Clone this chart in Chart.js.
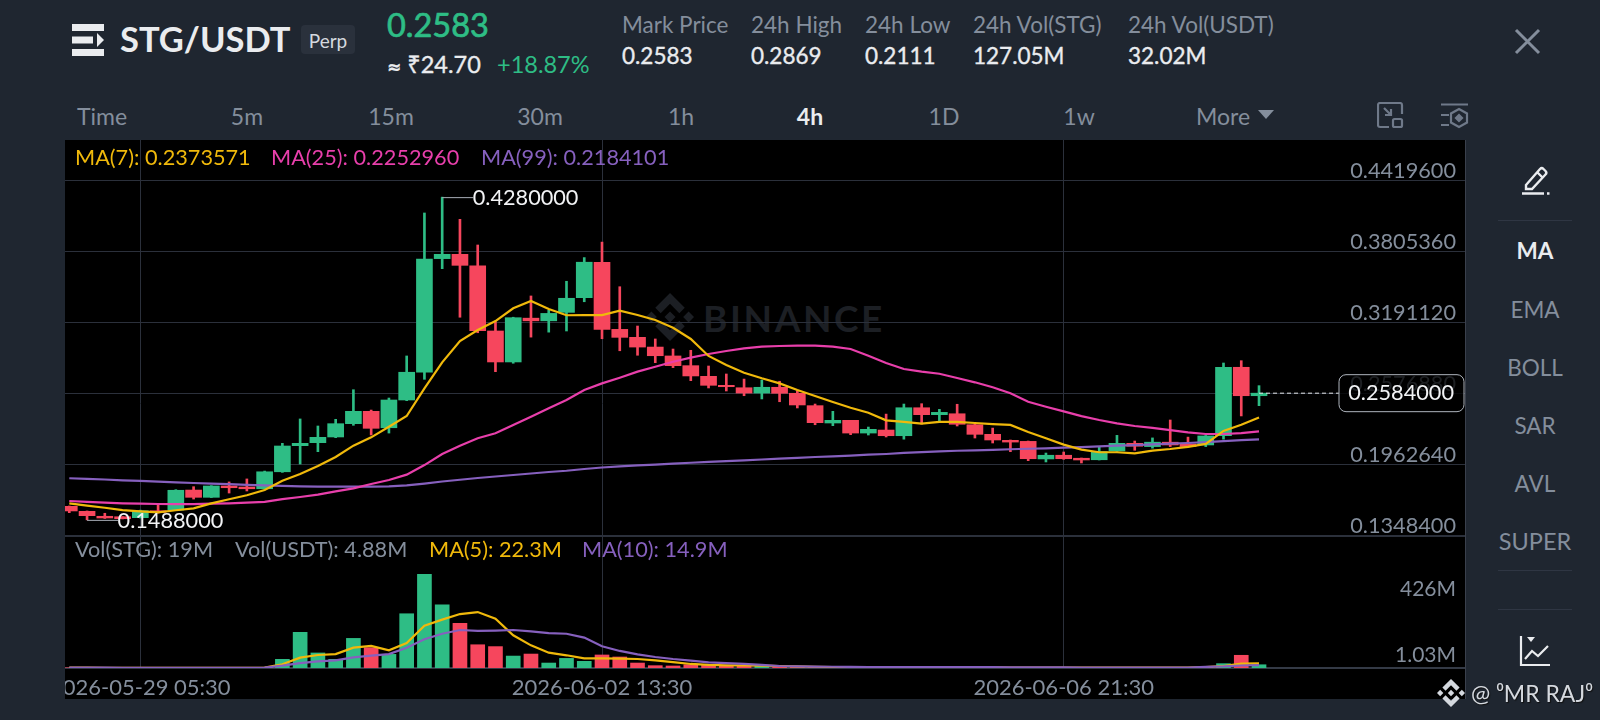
<!DOCTYPE html>
<html>
<head>
<meta charset="utf-8">
<title>STG/USDT</title>
<script src="https://cdn.jsdelivr.net/npm/chart.js@4/dist/chart.umd.min.js"></script>
<style>
html, body { margin: 0; padding: 0; width: 1600px; height: 720px; overflow: hidden; background: #1f2630; font-family: Lato, "Open Sans", sans-serif; }
.t { position: absolute; white-space: nowrap; line-height: 1; transform: translateY(-50%); }
.c { transform: translate(-50%, -50%); }
.gray { color: #848e9c; }
.light { color: #eaecef; }
.up { color: #2ebd85; }
.med { -webkit-text-stroke: .35px currentColor; }
#panel { position: absolute; left: 65px; top: 140px; width: 1400px; height: 559px; background: #000; border-right: 1px solid #3a404c; }
#chart { position: absolute; left: 0; top: 0; }
#mark { position: absolute; left: 581px; top: 153px; width: 48px; height: 48px; fill: #1c1f24; }
#markText { position: absolute; left: 638px; top: 177px; transform: translateY(-50%); font-size: 37px; font-weight: 700; letter-spacing: 2.6px; color: #1c1f24; line-height: 1; }
.rule { position: absolute; left: 1498px; width: 74px; height: 1px; background: #2f3643; }
svg.ic { position: absolute; fill: none; }
</style>
</head>
<body>
<svg width="0" height="0" style="position:absolute">
  <symbol id="bn" viewBox="0 0 126.61 126.61">
    <path d="M38.73 53.2l24.59-24.58 24.6 24.6 14.3-14.31L63.32 0 24.43 38.9zM0 63.31l14.3-14.31 14.31 14.31-14.31 14.3zM38.73 73.41l24.59 24.59 24.6-24.6 14.31 14.29-38.9 38.91-38.91-38.88zM98 63.31L112.3 49l14.31 14.3-14.31 14.32z"/>
    <path d="M77.83 63.3L63.32 48.78 52.59 59.51l-1.24 1.23-2.54 2.54 14.51 14.5 14.51-14.47z"/>
  </symbol>
</svg>

<!-- top bar -->
<svg class="ic" style="left:72px;top:24px" width="33" height="33" fill="#eaecef">
  <g fill="#eaecef"><rect x="0" y="0" width="32" height="7"/><rect x="0" y="12.5" width="21" height="7"/><polygon points="25,9 32,16 25,23"/><rect x="0" y="25" width="32" height="7"/></g>
</svg>
<div class="t light" style="left:120px;top:39px;font-size:34.5px;font-weight:700">STG/USDT</div>
<div style="position:absolute;left:301px;top:25px;width:54px;height:29px;background:#2a313c;border-radius:4px"></div>
<div class="t c" style="left:328px;top:40px;font-size:19px;color:#d5d9df">Perp</div>
<div class="t up med" style="left:387px;top:24.5px;font-size:32.5px;-webkit-text-stroke-width:.7px">0.2583</div>
<div class="t light med" style="left:387px;top:65px;font-size:23.5px"><span style="font-family:'DejaVu Sans';font-size:17px;font-weight:700">≈</span> <span style="font-family:'Noto Sans',Roboto">₹</span>24.70</div>
<div class="t up" style="left:497px;top:65px;font-size:23.5px">+18.87%</div>

<div class="t gray" style="left:622px;top:25px;font-size:22.5px">Mark Price</div>
<div class="t gray" style="left:751px;top:25px;font-size:22.5px">24h High</div>
<div class="t gray" style="left:865px;top:25px;font-size:22.5px">24h Low</div>
<div class="t gray" style="left:973px;top:25px;font-size:22.5px">24h Vol(STG)</div>
<div class="t gray" style="left:1128px;top:25px;font-size:22.5px">24h Vol(USDT)</div>
<div class="t light med" style="left:622px;top:56px;font-size:22.5px">0.2583</div>
<div class="t light med" style="left:751px;top:56px;font-size:22.5px">0.2869</div>
<div class="t light med" style="left:865px;top:56px;font-size:22.5px">0.2111</div>
<div class="t light med" style="left:973px;top:56px;font-size:22.5px">127.05M</div>
<div class="t light med" style="left:1128px;top:56px;font-size:22.5px">32.02M</div>
<svg class="ic" style="left:1514px;top:28px" width="27" height="27" stroke="#848e9c" stroke-width="3"><path d="M2 2L25 25M25 2L2 25"/></svg>

<!-- interval row -->
<div class="t c gray" style="left:102px;top:116px;font-size:23px">Time</div>
<div class="t c gray" style="left:247px;top:116px;font-size:23px">5m</div>
<div class="t c gray" style="left:391px;top:116px;font-size:23px">15m</div>
<div class="t c gray" style="left:540px;top:116px;font-size:23px">30m</div>
<div class="t c gray" style="left:681px;top:116px;font-size:23px">1h</div>
<div class="t c light" style="left:810px;top:116px;font-size:23px;font-weight:700">4h</div>
<div class="t c gray" style="left:944px;top:116px;font-size:23px">1D</div>
<div class="t c gray" style="left:1079px;top:116px;font-size:23px">1w</div>
<div class="t c gray" style="left:1223px;top:116px;font-size:23px">More</div>
<svg class="ic" style="left:1258px;top:110px" width="16" height="10"><polygon points="0,0 16,0 8,9" fill="#848e9c"/></svg>
<svg class="ic" style="left:1377px;top:102px" width="27" height="27" stroke="#6f7989" stroke-width="2.2">
  <path d="M12 25H3a2 2 0 0 1-2-2V3a2 2 0 0 1 2-2h20a2 2 0 0 1 2 2v9"/><path d="M7 6L14 13M14 7v6H8"/><rect x="16" y="17" width="9" height="8" rx="1.5"/>
</svg>
<svg class="ic" style="left:1440px;top:103px" width="29" height="26" stroke="#6f7989" stroke-width="2.2">
  <path d="M1 1.5H28M1 12H9M1 22H9"/><polygon points="19,6 27,10.5 27,19.5 19,24 11,19.5 11,10.5"/><polygon points="19,12 22,15 19,18 16,15" fill="#6f7989"/>
</svg>

<!-- chart panel -->
<div id="panel">
  <svg id="mark"><use href="#bn"/></svg>
  <div id="markText">BINANCE</div>
  <canvas id="chart" width="1400" height="559"></canvas>
</div>
<div class="t" style="left:75px;top:158px;font-size:21.7px;color:#f0b90b">MA(7): 0.2373571</div>
<div class="t" style="left:271px;top:158px;font-size:21.7px;color:#e83fab">MA(25): 0.2252960</div>
<div class="t" style="left:481px;top:158px;font-size:21.7px;color:#8660be">MA(99): 0.2184101</div>
<div class="t gray" style="left:75px;top:550px;font-size:21.7px">Vol(STG): 19M</div>
<div class="t gray" style="left:235px;top:550px;font-size:21.7px">Vol(USDT): 4.88M</div>
<div class="t" style="left:429px;top:550px;font-size:21.7px;color:#f0b90b">MA(5): 22.3M</div>
<div class="t" style="left:582px;top:550px;font-size:21.7px;color:#8660be">MA(10): 14.9M</div>

<!-- side menu -->
<svg class="ic" style="left:1521px;top:165px" width="29" height="30" stroke="#eaecef" stroke-width="2.4">
  <path d="M5 20L19 4a2.5 2.5 0 0 1 3.5 0l2 2a2.5 2.5 0 0 1 0 3.500L11 24H5zM16 7l6 6"/><path d="M1 28.500H23M26 28.500H28.500"/>
</svg>
<div class="rule" style="top:220px"></div>
<div class="t c light" style="left:1535px;top:251px;font-size:22.500px;font-weight:700">MA</div>
<div class="t c gray" style="left:1535px;top:310px;font-size:22.500px">EMA</div>
<div class="t c gray" style="left:1535px;top:368px;font-size:22.500px">BOLL</div>
<div class="t c gray" style="left:1535px;top:426px;font-size:22.500px">SAR</div>
<div class="t c gray" style="left:1535px;top:484px;font-size:22.500px">AVL</div>
<div class="t c gray" style="left:1535px;top:542px;font-size:23.5px">SUPER</div>
<div class="rule" style="top:570px"></div>
<div class="rule" style="top:609px"></div>
<svg class="ic" style="left:1519px;top:635px" width="32" height="32" stroke="#eaecef" stroke-width="2.2">
  <path d="M2 1V30H31"/><path d="M6 24L13 16L19 21L29 11"/><polygon points="8,2 16,2 12,7" fill="#eaecef" stroke="none"/>
</svg>
<svg style="position:absolute;left:1437px;top:679px;fill:#d5d9df" width="28" height="28"><use href="#bn"/></svg>
<div class="t" style="left:1471px;top:693px;font-size:23px;color:#d5d9df;text-shadow:1px 1px 1px #111">@ ⁰MR RAJ⁰</div>

<script>
const opens  = [.1605,.1562,.1519,.1515,.1507,.1567,.1573,.1746,.1683,.1781,.1772,.1757,.1904,.2130,.2156,.2205,.2320,.2427,.2285,.2525,.2765,.3748,.3785,.3686,.3122,.2854,.3233,.3210,.3283,.3410,.3717,.3136,.3067,.2983,.2906,.2822,.2730,.2652,.2631,.2585,.2635,.2583,.2476,.2326,.2349,.2239,.2265,.2216,.2458,.2398,.2406,.2311,.2228,.2176,.2167,.2015,.2047,.2021,.2008,.2084,.2150,.2122,.2160,.2143,.2136,.2216,.2808,.2562];
const highs  = [.1608,.1565,.1545,.1515,.1572,.1631,.1749,.1775,.1784,.1816,.1842,.1910,.2150,.2361,.2300,.2358,.2614,.2438,.2542,.2906,.4143,.4280,.4088,.3866,.3202,.3241,.3425,.3302,.3552,.3757,.3891,.3505,.3165,.3053,.2966,.2955,.2819,.2750,.2706,.2698,.2687,.2605,.2490,.2427,.2349,.2291,.2403,.2490,.2493,.2444,.2488,.2317,.2282,.2179,.2170,.2066,.2075,.2023,.2116,.2219,.2170,.2197,.2352,.2204,.2218,.2845,.2865,.2649];
const lows   = [.1550,.1488,.1500,.1496,.1504,.1547,.1571,.1668,.1681,.1720,.1738,.1755,.1899,.1971,.2078,.2199,.2306,.2222,.2239,.2519,.2704,.3661,.3241,.3107,.2770,.2843,.3069,.3112,.3122,.3375,.3055,.2951,.2912,.2848,.2805,.2692,.2629,.2603,.2562,.2534,.2510,.2456,.2311,.2303,.2225,.2222,.2205,.2186,.2317,.2337,.2300,.2196,.2153,.2078,.2000,.1989,.2012,.1980,.2006,.2080,.2090,.2108,.2122,.2117,.2122,.2186,.2387,.2476];
const closes = [.1565,.1524,.1504,.1498,.1567,.1553,.1744,.1683,.1781,.1766,.1757,.1904,.2127,.2150,.2202,.2320,.2427,.2280,.2525,.2765,.3745,.3785,.3690,.3124,.2854,.3237,.3210,.3274,.3405,.3717,.3136,.3067,.2983,.2908,.2822,.2733,.2652,.2640,.2585,.2635,.2583,.2482,.2329,.2349,.2239,.2271,.2216,.2458,.2398,.2418,.2315,.2228,.2179,.2161,.2017,.2047,.2017,.2006,.2078,.2150,.2125,.2160,.2136,.2122,.2214,.2808,.2562,.2584];

const ma7  = [.1631,.1611,.1593,.1573,.1562,.1553,.1571,.1588,.1631,.1666,.1701,.1746,.1827,.1885,.1954,.2032,.2130,.2202,.2294,.2386,.2626,.2851,.3035,.3131,.3208,.3318,.3381,.3312,.3258,.3260,.3260,.3298,.3260,.3217,.3150,.3053,.2906,.2828,.2761,.2713,.2669,.2611,.2560,.2508,.2458,.2415,.2349,.2335,.2320,.2335,.2335,.2326,.2317,.2309,.2248,.2194,.2139,.2096,.2073,.2073,.2064,.2087,.2101,.2119,.2145,.2257,.2311,.2374];
const ma25 = [.1651,.1643,.1637,.1631,.1628,.1625,.1625,.1625,.1628,.1631,.1637,.1643,.1668,.1686,.1706,.1735,.1761,.1798,.1833,.1879,.1962,.2058,.2130,.2194,.2237,.2309,.2380,.2453,.2525,.2611,.2669,.2718,.2770,.2813,.2856,.2891,.2923,.2949,.2972,.2986,.2992,.2995,.2995,.2986,.2966,.2908,.2845,.2793,.2770,.2752,.2715,.2678,.2635,.2583,.2510,.2467,.2427,.2386,.2352,.2323,.2300,.2283,.2265,.2245,.2231,.2231,.2239,.2253];
const ma99 = [.1848,.1842,.1837,.1830,.1825,.1818,.1813,.1807,.1802,.1797,.1791,.1786,.1782,.1778,.1776,.1775,.1775,.1775,.1777,.1787,.1802,.1820,.1835,.1850,.1863,.1876,.1889,.1902,.1913,.1928,.1941,.1951,.1959,.1966,.1974,.1982,.1989,.1996,.2003,.2010,.2017,.2024,.2032,.2038,.2044,.2052,.2058,.2067,.2074,.2081,.2086,.2090,.2094,.2099,.2103,.2107,.2113,.2118,.2124,.2130,.2135,.2141,.2147,.2153,.2161,.2170,.2177,.2184];

// volume, in millions
const vols = [1.2,.9,.8,.7,1,.8,2,1.5,1.8,1.1,1.4,4,56,230,97,56,191,131,88,350,604,408,288,150,138,77,90,32,62,43,84,71,32,15,13,21,17,13,13,13,10,4,4,3,3,2,3,6,6,4,4,3,2,2,3,2,2,1.5,2,3,2,2,3,3,4,28,82,21];
const volMa5 = [2,1.8,1.6,1.2,1,.9,1.1,1.2,1.4,1.5,1.6,2.5,24,67,84,90,131,142,114,161,273,312,348,361,318,211,146,99,82,62,62,60,58,49,38,26,20,17,16,15,13,10,8,6,5,4,4,4,4,4,5,5,4,3,3,3,3,3,3,3,3,3,3,3,6,13,28,30];
const volMa10 = [2.2,2,1.8,1.6,1.4,1.3,1.3,1.3,1.3,1.3,1.4,2,15,32,43,49,69,80,90,131,185,221,245,239,241,245,236,225,221,196,140,110,88,71,58,48,36,31,26,20,13,11,9,8,7,6,5,5,5,5,5,5,5,4,4,4,4,3,3,3,3,3,3,3,7,10,16,19];

const priceTicks = [.44196,.380536,.319112,.257688,.196264,.13484];
const volTicks = [426,1.03];
const volTickLabels = ['426M','1.03M'];
const dateTicks = [4,30,56];
const dateLabels = ['2026-05-29 05:30','2026-06-02 13:30','2026-06-06 21:30'];
const highMark = { index: 21, price: .428, label: '0.4280000' };
const lowMark = { index: 1, price: .1488, label: '0.1488000' };
const lastPrice = .2584;

const GREEN = '#2ebd85', RED = '#f6465d', GRID = '#2b303b';
const FONT = 'Lato, "Open Sans", sans-serif';

let pts = (arr) => arr.map((v, i) => ({ x: i, y: v }));
let candleColors = opens.map((o, i) => closes[i] >= o ? GREEN : RED);

let lineSet = (data, color, yAxisID, order, width) => ({
    type: 'line',
    data: pts(data),
    borderColor: color,
    borderWidth: width,
    pointRadius: 0,
    tension: 0,
    yAxisID: yAxisID,
    order: order
});

// markers that sit on top of the price scale
const priceMarks = {
    id: 'priceMarks',
    afterDraw(chart) {
        const ctx = chart.ctx, x = chart.scales.x, y = chart.scales.yp;
        ctx.save();
        ctx.font = '21.7px ' + FONT;
        ctx.textBaseline = 'middle';
        [highMark, lowMark].forEach(m => {
            const px = x.getPixelForValue(m.index), py = y.getPixelForValue(m.price);
            ctx.strokeStyle = '#a7adb6';
            ctx.lineWidth = 1;
            ctx.beginPath();
            ctx.moveTo(px, py + .5);
            ctx.lineTo(px + 31, py + .5);
            ctx.stroke();
            ctx.fillStyle = '#f2f3f5';
            ctx.textAlign = 'left';
            ctx.fillText(m.label, px + 30.5, py + 1);
        });
        // last price box
        const right = x.right - 1, py = y.getPixelForValue(lastPrice);
        ctx.beginPath();
        ctx.roundRect(right - 125, py - 18.5, 125, 37, 7);
        ctx.fillStyle = 'rgba(0,0,0,.78)';
        ctx.fill();
        ctx.strokeStyle = '#aeb4bd';
        ctx.stroke();
        ctx.fillStyle = '#f2f3f5';
        ctx.textAlign = 'right';
        ctx.fillText(lastPrice.toFixed(7), right - 10, py);
        ctx.restore();
    }
};

let zeroPad = (s) => { s.paddingTop = 0; s.paddingBottom = 0; s.width = 0; };

new Chart(document.getElementById('chart'), {
    type: 'bar',
    data: {
        datasets: [
            { data: lows.map((l, i) => ({ x: i, y: [l, highs[i]] })), backgroundColor: candleColors, barThickness: 2, grouped: false, yAxisID: 'yp', order: 6 },
            { data: opens.map((o, i) => ({ x: i, y: [o, closes[i]] })), backgroundColor: candleColors, barThickness: 16, grouped: false, yAxisID: 'yp', order: 5 },
            { data: vols.map((v, i) => ({ x: i, y: [0, v] })), backgroundColor: candleColors, barThickness: 14, grouped: false, yAxisID: 'yv', order: 4 },
            lineSet(ma99, '#8660be', 'yp', 3, 2.2),
            lineSet(ma25, '#e83fab', 'yp', 2, 2.2),
            lineSet(ma7, '#f0b90b', 'yp', 1, 2.2),
            lineSet(volMa10, '#8660be', 'yv', 1, 2.2),
            lineSet(volMa5, '#f0b90b', 'yv', 2, 2.2),
            { type: 'line', data: [{ x: opens.length - 1, y: lastPrice }, { x: 71.5, y: lastPrice }], borderColor: '#e6e8ea', borderWidth: 1, borderDash: [4, 3], pointRadius: 0, yAxisID: 'yp', order: 0 }
        ]
    },
    options: {
        responsive: false,
        animation: false,
        layout: { padding: 0 },
        plugins: { legend: { display: false }, tooltip: { enabled: false } },
        scales: {
            x: {
                type: 'linear',
                offset: false,
                min: -0.242,
                max: 78.6,
                afterBuildTicks: (s) => { s.ticks = dateTicks.map(v => ({ value: v })); },
                afterFit: (s) => { s.paddingLeft = 0; s.paddingRight = 0; s.height = 31; },
                grid: { color: GRID, drawTicks: false, offset: false },
                border: { display: true, color: '#343a46', width: 2 },
                ticks: {
                    autoSkip: false,
                    maxRotation: 0,
                    padding: 7,
                    color: '#848e9c',
                    font: { family: FONT, size: 22 },
                    callback: (v) => dateLabels[dateTicks.indexOf(v)]
                }
            },
            yp: {
                position: 'right',
                min: .02064,
                max: .47743,
                afterBuildTicks: (s) => { s.ticks = priceTicks.map(v => ({ value: v })); },
                afterFit: zeroPad,
                grid: { color: GRID, drawTicks: false, lineWidth: (c) => c.tick && c.tick.value === .13484 ? 2 : 1 },
                border: { display: false },
                ticks: {
                    mirror: true,
                    padding: -9,
                    color: '#848e9c',
                    font: { family: FONT, size: 21.7, lineHeight: .92 },
                    callback: (v) => [v.toFixed(7), '']
                }
            },
            yv: {
                position: 'right',
                min: 0,
                max: 3406,
                afterBuildTicks: (s) => { s.ticks = volTicks.map(v => ({ value: v })); },
                afterFit: zeroPad,
                grid: { display: false, drawTicks: false },
                border: { display: false },
                ticks: {
                    mirror: true,
                    padding: -9,
                    color: '#848e9c',
                    font: { family: FONT, size: 21, lineHeight: 1.2 },
                    callback: (v) => [volTickLabels[volTicks.indexOf(v)], '']
                }
            }
        }
    },
    plugins: [priceMarks]
});
</script>
</body>
</html>
